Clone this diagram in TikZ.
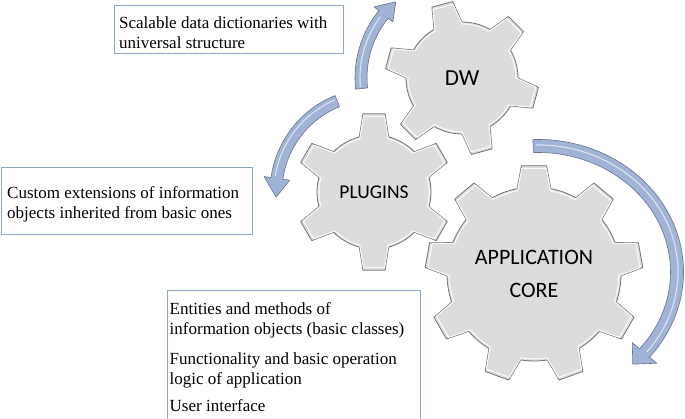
\documentclass[tikz,border=0pt]{standalone}
\usepackage{fontspec}
\setmainfont{Liberation Serif}
\newfontfamily\gearfont{Carlito}
\definecolor{gearfill}{RGB}{220,220,220}
\definecolor{gearline}{RGB}{115,115,115}
\definecolor{arrowfill}{RGB}{160,178,214}
\definecolor{arrowline}{RGB}{105,115,135}
\definecolor{boxline}{RGB}{140,168,196}
% #1 cx, #2 cy, #3 teeth, #4 first tooth angle, #5 inner r, #6 outer r, #7 half angle at base, #8 half angle at tip, #9 style
\newcommand\drawgear[9]{%
  \begin{scope}[shift={(#1,#2)}]
    \pgfmathsetmacro\gst{360/#3}
    \pgfmathtruncatemacro\gnm{#3-1}
    \path[#9] ({#4-#7}:#5) \foreach \k in {0,...,\gnm} {
      -- ({#4+\k*\gst-#7}:#5) -- ({#4+\k*\gst-#8}:#6) -- ({#4+\k*\gst+#8}:#6)
      -- ({#4+\k*\gst+#7}:#5)
      arc[start angle={#4+\k*\gst+#7}, end angle={#4+(\k+1)*\gst-#7}, radius=#5] } -- cycle;
  \end{scope}}
\begin{document}
\begin{tikzpicture}[x=1pt,y=1pt,
  gearshape/.style={fill=gearfill, draw=gearline, line width=0.8pt, line join=round},
  gearhl/.style={draw=white, line width=1.1pt, opacity=0.85, line join=round},
  arrowshape/.style={fill=arrowfill, draw=arrowline, line width=0.6pt, line join=round},
  arrowhl/.style={draw=white, line width=1.2pt, opacity=0.6},
  textbox/.style={draw=boxline, line width=0.8pt, inner sep=0pt, anchor=north west},
  boxtext/.style={inner sep=0pt, anchor=north west, align=left, font=\fontsize{17}{20.5}\selectfont},
  gearlabel/.style={inner sep=0pt, align=center}]
\useasboundingbox (0,0) rectangle (685,419);
\clip (0,0) rectangle (685,419);

% text boxes
\node[textbox, minimum width=229pt, minimum height=48pt] (box1) at (114,414) {};
\node[textbox, minimum width=251.5pt, minimum height=67pt] (box2) at (0.5,252) {};
\node[textbox, minimum width=253pt, minimum height=140pt] (box3) at (167,129) {};

\node[boxtext] (t1) at (119,402.9) {Scalable data dictionaries with\\universal structure};
\node[boxtext] (t2) at (7,232.9) {Custom extensions of information\\objects inherited from basic ones};
\node[boxtext] (t3) at (169.5,116.9) {Entities and methods of\\information objects (basic classes)\\[9pt]Functionality and basic operation\\logic of application\\[6.5pt]User interface};

% gear centres
\coordinate (cdw) at (462,341);
\coordinate (cpl) at (374,227);
\coordinate (cap) at (534,145);

% gears
\drawgear{462}{341}{6}{105}{56}{77}{15}{8}{gearshape}
\drawgear{462}{341}{6}{105}{56}{77}{15}{8}{gearhl,scale=0.965}
\drawgear{374}{227}{6}{90}{57}{79}{15}{8}{gearshape}
\drawgear{374}{227}{6}{90}{57}{79}{15}{8}{gearhl,scale=0.965}
\drawgear{534}{145}{9}{90}{87}{109}{11.2}{6.6}{gearshape}
\drawgear{534}{145}{9}{90}{87}{109}{11.2}{6.6}{gearhl,scale=0.975}

% arrow around DW
\begin{scope}[shift={(cdw)}]
  \path[arrowshape] (186:107) arc[start angle=186, end angle=141, radius=107]
    -- (141:113) -- (131:101) -- (141:89) -- (141:95)
    arc[start angle=141, end angle=186, radius=95] -- cycle;
  \draw[arrowhl] (185:102) arc[start angle=185, end angle=143, radius=102];
\end{scope}
% arrow around PLUGINS
\begin{scope}[shift={(cpl)}]
  \path[arrowshape] (112:104) arc[start angle=112, end angle=172, radius=104]
    -- (172:111) -- (183:98) -- (172:85) -- (172:92)
    arc[start angle=172, end angle=112, radius=92] -- cycle;
  \draw[arrowhl] (113:100) arc[start angle=113, end angle=171, radius=100];
\end{scope}
% arrow around APPLICATION CORE
\begin{scope}[shift={(538,147)}]
  \path[arrowshape] (92:145.5 and 132.5) arc[start angle=92, end angle=-40, x radius=145.5, y radius=132.5]
    -- (-40:155 and 142) -- (-47:139 and 126) -- (-40:123 and 110) -- (-40:132.5 and 119.5)
    arc[start angle=-40, end angle=92, x radius=132.5, y radius=119.5] -- cycle;
  \draw[arrowhl] (91:140 and 127) arc[start angle=91, end angle=-39, x radius=140, y radius=127];
\end{scope}

% gear labels
\node[gearlabel, font=\gearfont\fontsize{23}{23}\selectfont] (dw) at (cdw) {DW};
\node[gearlabel, font=\gearfont\fontsize{19.5}{20}\selectfont] (plugins) at (cpl) {PLUGINS};
\node[gearlabel, font=\gearfont\fontsize{22}{33}\selectfont] (core) at (534,145.5) {APPLICATION\\CORE};
\end{tikzpicture}
\end{document}
